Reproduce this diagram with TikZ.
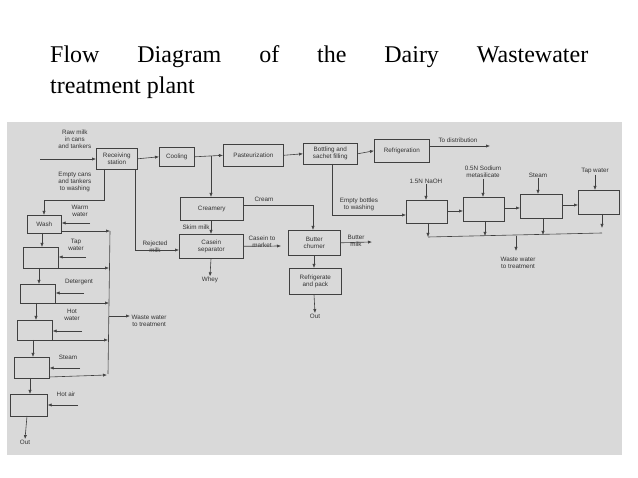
\documentclass[tikz,border=0pt]{standalone}
\usepackage{fontspec}
\setmainfont{Liberation Serif}
\newfontfamily\lab{Liberation Sans}
\usetikzlibrary{arrows.meta}
\begin{document}
\begin{tikzpicture}[x=1pt,y=-1pt,
  bx/.style={draw=black!75,line width=0.6pt,rectangle,inner sep=0pt,anchor=north west},
  tx/.style={font=\lab\fontsize{6.3}{7}\selectfont,text=black!80,align=center,inner sep=0.5pt},
  ln/.style={draw=black!75,line width=0.6pt},
  ar/.style={ln,-{Latex[length=4pt,width=3.2pt]}}]
\useasboundingbox (0,0) rectangle (638,478);
\fill[white] (0,0) rectangle (638,478);
\fill[black!15] (7,122) rectangle (622,455);
\node[font=\fontsize{24}{27}\selectfont,anchor=west,inner sep=0] (t1) at (50,57) {\makebox[538pt][s]{Flow\hfill Diagram\hfill of\hfill the\hfill Dairy\hfill Wastewater}};
\node[font=\fontsize{24}{27}\selectfont,anchor=west,inner sep=0] (t2) at (50,88) {treatment plant};
% main line boxes
\node[bx,minimum width=41,minimum height=21] (rec) at (96,148) {};
\node[tx] at (rec.center) {Receiving\\station};
\node[bx,minimum width=35,minimum height=19] (cool) at (159,147) {};
\node[tx] at (cool.center) {Cooling};
\node[bx,minimum width=60,minimum height=22] (past) at (223,144) {};
\node[tx] at (past.center) {Pasteurization};
\node[bx,minimum width=54,minimum height=21] (bot) at (303,143) {};
\node[tx] at (bot.center) {Bottling and\\sachet filling};
\node[bx,minimum width=55,minimum height=23] (refr) at (374,139) {};
\node[tx] at (refr.center) {Refrigeration};
\coordinate (dist) at (490,146);
\node[tx] at (458,140) {To distribution};
\node[bx,minimum width=63,minimum height=23] (cream) at (180,197) {};
\node[tx] at (cream.center) {Creamery};
\node[bx,minimum width=64,minimum height=24] (cas) at (179,234) {};
\node[tx] at (cas.center) {Casein\\separator};
\node[bx,minimum width=52,minimum height=25] (bc) at (288,230) {};
\node[tx] at (bc.center) {Butter\\churner};
\node[bx,minimum width=52,minimum height=26] (rp) at (289,268) {};
\node[tx] at (rp.center) {Refrigerate\\and pack};
\node[tx] (out2) at (315,316) {Out};
\node[tx] (whey) at (210,280) {Whey};
\node[tx] at (264,199) {Cream};
\node[tx] at (196,227) {Skim milk};
\node[tx] at (262,242) {Casein to\\market};
\node[tx] at (356,241) {Butter\\milk};
\node[tx] at (155,247) {Rejected\\milk};
\node[tx,anchor=east] at (92,139) {Raw milk\\in cans\\and tankers};
\node[tx,anchor=east] at (92,182) {Empty cans\\and tankers\\to washing};
\node[tx] at (359,204) {Empty bottles\\to washing};
% main arrows
\draw[ar] (40,159) -- (rec.west|-0,159);
\draw[ar] (rec.east) -- (cool.west);
\draw[ar] (cool.east) -- (past.west);
\draw[ar] (past.east) -- (bot.west);
\draw[ar] (bot.east) -- (refr.west);
\draw[ar] (refr.east|-dist) -- (dist);
\draw[ar] (211,156) -- (cream.north-|211,0);
\draw[ar] (cream.south-|211,0) -- (cas.north-|211,0);
\draw[ar] (cas.south-|211,0) -- (whey.north);
\draw[ar] (cas.east) -- (281,246);
\draw[ar] (243,205) -- (313,205) -- (bc.north-|313,0);
\draw[ar] (bc.south-|314,0) -- (rp.north-|314,0);
\draw[ar] (rp.south-|314,0) -- (out2.north);
\draw[ar] (bc.east) -- (372,242);
\draw[ar] (135,169) -- (135,250) -- (cas.west|-0,250);
% right washing line
\node[bx,minimum width=41,minimum height=23] (r1) at (406,200) {};
\node[bx,minimum width=41,minimum height=24] (r2) at (463,197) {};
\node[bx,minimum width=42,minimum height=24] (r3) at (520,194) {};
\node[bx,minimum width=41,minimum height=24] (r4) at (578,190) {};
\node[tx] (l1) at (426,181) {1.5N NaOH};
\node[tx] (l2) at (483,172) {0.5N Sodium\\metasilicate};
\node[tx] (l3) at (538,175) {Steam};
\node[tx] (l4) at (595,171) {Tap water};
\draw[ar] (l1.south) -- (r1.north-|l1.south);
\draw[ar] (l2.south) -- (r2.north-|l2.south);
\draw[ar] (l3.south) -- (r3.north-|l3.south);
\draw[ar] (l4.south) -- (r4.north-|l4.south);
\draw[ar] (332,164) -- (332,215) -- (r1.west|-0,215);
\draw[ar] (r1.east|-0,211) -- (r2.west|-0,211);
\draw[ar] (r2.east|-0,208) -- (r3.west|-0,208);
\draw[ar] (r3.east|-0,205) -- (r4.west|-0,205);
\draw[ln] (428,237) -- (602,233);
\draw[ar] (428,223) -- (428,237);
\draw[ar] (485,221) -- (485,236);
\draw[ar] (543,218) -- (543,235);
\draw[ar] (602,214) -- (602,228);
\coordinate (wr) at (516,251);
\draw[ar] (516,236) -- (wr);
\node[tx] at (518,263) {Waste water\\to treatment};
% left washing column
\node[bx,minimum width=34,minimum height=18] (w1) at (27,215) {};
\node[tx] at (w1.center) {Wash};
\node[bx,minimum width=35,minimum height=21] (w2) at (23,247) {};
\node[bx,minimum width=35,minimum height=19] (w3) at (20,284) {};
\node[bx,minimum width=35,minimum height=20] (w4) at (17,320) {};
\node[bx,minimum width=35,minimum height=21] (w5) at (14,357) {};
\node[bx,minimum width=37,minimum height=22] (w6) at (10,394) {};
\node[tx] (out1) at (25,442) {Out};
\draw[ar] (104,169) -- (104,200) -- (44,200) -- (w1.north-|44,0);
\draw[ar] (42,233) -- (w2.north-|42,0);
\draw[ar] (39,268) -- (w3.north-|39,0);
\draw[ar] (36,303) -- (w4.north-|36,0);
\draw[ar] (33,340) -- (w5.north-|33,0);
\draw[ar] (30,378) -- (w6.north-|30,0);
\draw[ar] (27,416) -- (out1.north);
\node[tx] at (80,211) {Warm\\water};
\node[tx] at (76,245) {Tap\\water};
\node[tx] at (79,282) {Detergent};
\node[tx] at (72,315) {Hot\\water};
\node[tx] at (68,357) {Steam};
\node[tx] at (66,394) {Hot air};
\draw[ar] (90,223) -- (w1.east|-0,223);
\draw[ar] (86,257) -- (w2.east|-0,257);
\draw[ar] (84,293) -- (w3.east|-0,293);
\draw[ar] (82,331) -- (w4.east|-0,331);
\draw[ar] (80,368) -- (w5.east|-0,368);
\draw[ar] (78,405) -- (w6.east|-0,405);
\draw[ln] (110,231) -- (108,374);
\draw[ar] (61,231) -- (110,231);
\draw[ar] (58,268) -- (109,268);
\draw[ar] (55,303) -- (109,303);
\draw[ar] (52,340) -- (108,340);
\draw[ar] (49,377) -- (107,375);
\draw[ar] (109,316) -- (130,316);
\node[tx,anchor=west] at (131,321) {Waste water\\to treatment};
\end{tikzpicture}
\end{document}
